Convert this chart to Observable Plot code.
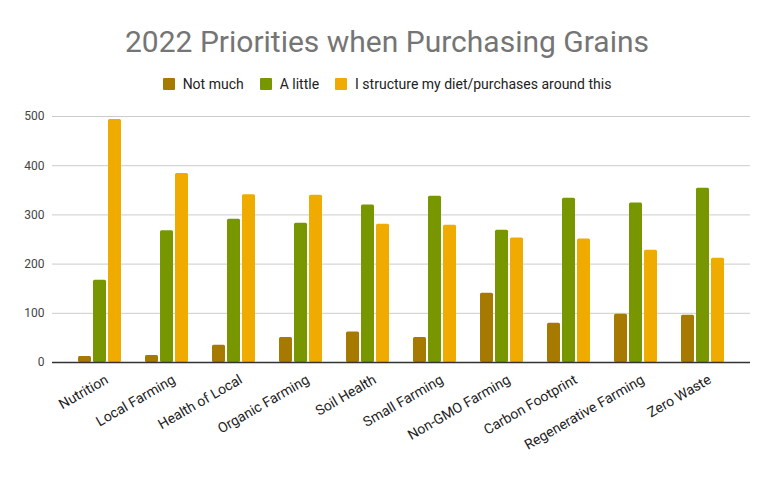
<!DOCTYPE html>
<html>
<head>
<meta charset="utf-8">
<script src="https://cdn.jsdelivr.net/npm/d3@7"></script>
<script src="https://cdn.jsdelivr.net/npm/@observablehq/plot@0.6"></script>
<style>
  body { margin: 0; background: #fff; font-family: Roboto, "Noto Sans", sans-serif; }
  #wrap { position: relative; width: 774px; height: 480px; overflow: hidden; background: #fff; }
  #title { position: absolute; left: 0; top: 24px; width: 774px; text-align: center;
           font-size: 30px; line-height: 36px; color: #757575; }
  #legend { position: absolute; left: 0; top: 76px; width: 774px; height: 16px; display: flex;
            justify-content: center; align-items: center; font-size: 14px; color: #222; }
  .item { display: flex; align-items: center; margin: 0 8px; white-space: nowrap; }
  .sw { width: 12px; height: 12px; margin-right: 8px; border-radius: 1px; }
  #chart { position: absolute; left: 0; top: 100px; }
</style>
</head>
<body>
<div id="wrap">
  <div id="title">2022 Priorities when Purchasing Grains</div>
  <div id="legend"></div>
  <div id="chart"></div>
</div>
<script>
// Survey answers per grain-purchasing priority
const categories = ["Nutrition", "Local Farming", "Health of Local", "Organic Farming", "Soil Health",
                    "Small Farming", "Non-GMO Farming", "Carbon Footprint", "Regenerative Farming", "Zero Waste"];
const seriesNames = ["Not much", "A little", "I structure my diet/purchases around this"];
const notMuch   = [12, 14, 35, 51, 62, 51, 141, 80, 98, 96];
const aLittle   = [167, 268, 291, 283, 320, 338, 269, 334, 324, 354];
const structure = [494, 384, 341, 340, 281, 279, 253, 251, 228, 212];
const yTicks = [0, 100, 200, 300, 400, 500];
const colors = ["#a67a00", "#779600", "#f0ab00"];

const seriesValues = [notMuch, aLittle, structure];
const rows = seriesValues.map(vals => categories.map((c, i) => ({category: c, value: vals[i]})));

// Legend
const legend = document.getElementById("legend");
seriesNames.forEach((name, i) => {
  const item = document.createElement("div");
  item.className = "item";
  const sw = document.createElement("div");
  sw.className = "sw";
  sw.style.background = colors[i];
  const label = document.createElement("span");
  label.textContent = name;
  item.append(sw, label);
  legend.append(item);
});

// Grouped bars: each series offset within its category band
const offsets = [-15, 0, 15];

const chart = Plot.plot({
  width: 774,
  height: 380,
  marginTop: 16,
  marginBottom: 118,
  marginLeft: 52,
  marginRight: 24,
  style: {fontFamily: "Roboto, sans-serif", background: "transparent"},
  x: {domain: categories, paddingInner: 0.8, paddingOuter: 0.578, axis: null},
  y: {domain: [0, 500], axis: null},
  marks: [
    Plot.ruleY(yTicks.filter(d => d > 0), {stroke: "#cccccc", strokeWidth: 1}),
    ...rows.map((data, k) => Plot.barY(data, {
      x: "category", y: "value", fill: colors[k], dx: offsets[k], rx: 1.5
    })),
    Plot.ruleY([0], {stroke: "#333", strokeWidth: 1.4}),
    Plot.text(yTicks, {
      y: d => d, frameAnchor: "left", text: d => String(d), textAnchor: "end",
      dx: -8, fontSize: 12, fill: "#444"
    }),
    Plot.text(categories, {
      x: d => d, frameAnchor: "bottom", text: d => d, rotate: -30,
      textAnchor: "end", lineAnchor: "middle", dx: 7, dy: 16, fontSize: 14, fill: "#222"
    })
  ]
});
document.getElementById("chart").append(chart);
</script>
</body>
</html>
